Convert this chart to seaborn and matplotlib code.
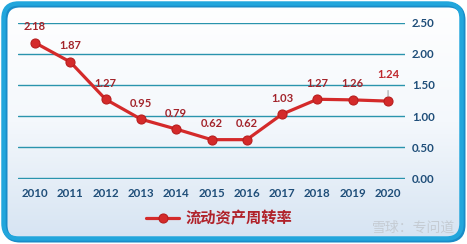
import numpy as np
import pandas as pd
import matplotlib
matplotlib.use("Agg")
import matplotlib.pyplot as plt
from matplotlib.patches import FancyBboxPatch
from matplotlib.colors import LinearSegmentedColormap
import seaborn as sns

years = [2010, 2011, 2012, 2013, 2014, 2015, 2016, 2017, 2018, 2019, 2020]
turnover = [2.18, 1.87, 1.27, 0.95, 0.79, 0.62, 0.62, 1.03, 1.27, 1.26, 1.24]
yticks = [0.00, 0.50, 1.00, 1.50, 2.00, 2.50]
series_name = "流动资产周转率"
watermark = "雪球：专问道"

sns.set_theme(style="white")
plt.rcParams['font.family'] = ['Noto Sans CJK SC', 'DejaVu Sans']

W, H = 467, 244
fig = plt.figure(figsize=(W / 100, H / 100), dpi=100)
fig.patch.set_facecolor("white")

# background frame
bg = fig.add_axes([0, 0, 1, 1])
bg.set_xlim(0, W)
bg.set_ylim(H, 0)
bg.axis("off")
grad = np.linspace(0, 1, 256).reshape(-1, 1)
cmap = LinearSegmentedColormap.from_list("g", ["#ffffff", "#f4f8fc", "#d5e3f2"])
im = bg.imshow(grad, cmap=cmap, extent=[0, W, H, 0], aspect="auto", zorder=0)
shadow = FancyBboxPatch((5, 5), W - 9, H - 9, boxstyle="round,pad=0,rounding_size=15",
                        facecolor="none", edgecolor="#1a8cc8", linewidth=3.6, zorder=1)
bg.add_patch(shadow)
frame = FancyBboxPatch((3.5, 3.5), W - 9, H - 9, boxstyle="round,pad=0,rounding_size=15",
                       facecolor="none", edgecolor="#22a6dc", linewidth=3.2, zorder=2)
bg.add_patch(frame)
im.set_clip_path(frame)

df = pd.DataFrame({"year": years, "value": turnover})

ax = fig.add_axes([18 / W, 1 - 178.5 / H, (405 - 18) / W, (178.5 - 22.5) / H])
ax.patch.set_alpha(0)
sns.lineplot(data=df, x="year", y="value", ax=ax, color="#d42a2a", linewidth=2.3,
             marker="o", markersize=6.5, markerfacecolor="#d42a2a",
             markeredgecolor="#b81e1e", markeredgewidth=0.8, label=series_name, zorder=5)

ax.set_xlim(2009.52, 2020.48)
ax.set_ylim(-0.005, 2.505)
ax.set_yticks(yticks)
ax.set_yticklabels([f"{v:.2f}" for v in yticks])
ax.set_xticks(years)
ax.set_xticklabels([str(y) for y in years])
ax.yaxis.tick_right()
ax.grid(axis="y", color="#2a94ad", linewidth=1.0)
ax.grid(axis="x", visible=False)
ax.set_axisbelow(True)
for s in ax.spines.values():
    s.set_visible(False)
ax.set_xlabel("")
ax.set_ylabel("")
ax.tick_params(axis="y", length=0, pad=5, labelsize=8.3, labelcolor="#1f4e79")
ax.tick_params(axis="x", length=0, pad=7, labelsize=8.3, labelcolor="#1f4e79")
for lab in ax.get_xticklabels() + ax.get_yticklabels():
    lab.set_fontfamily(["Lato", "DejaVu Sans"])
    lab.set_fontweight("bold")

for i, (x, v) in enumerate(zip(years, turnover)):
    if i == len(years) - 1:
        ax.annotate(f"{v:.2f}", xy=(x, v), xytext=(0, 19), textcoords="offset points",
                    ha="center", va="center", fontsize=8, color="#c0282e",
                    fontweight="bold", family=["Lato", "DejaVu Sans"],
                    arrowprops=dict(arrowstyle="-", color="#8a8a8a", lw=0.6,
                                    shrinkA=5, shrinkB=3), zorder=6)
    else:
        ax.annotate(f"{v:.2f}", xy=(x, v), xytext=(0, 11.5), textcoords="offset points",
                    ha="center", va="center", fontsize=8, color="#a3242b",
                    fontweight="bold", family=["Lato", "DejaVu Sans"], zorder=6)

leg = ax.legend(loc="center", bbox_to_anchor=(219 / W, 1 - 218 / H),
                bbox_transform=fig.transFigure, frameon=False, handlelength=2.2,
                handletextpad=0.4, prop={"family": ["Noto Sans CJK SC", "DejaVu Sans"],
                                         "size": 11, "weight": "bold"})
for t in leg.get_texts():
    t.set_color("#b0222a")

fig.text(414 / W, 1 - 228 / H, watermark, ha="center", va="center", fontsize=10,
         color="#c3c9d0", alpha=0.9, family=["Noto Sans CJK SC", "DejaVu Sans"])

fig.savefig("out.png", dpi=100)
